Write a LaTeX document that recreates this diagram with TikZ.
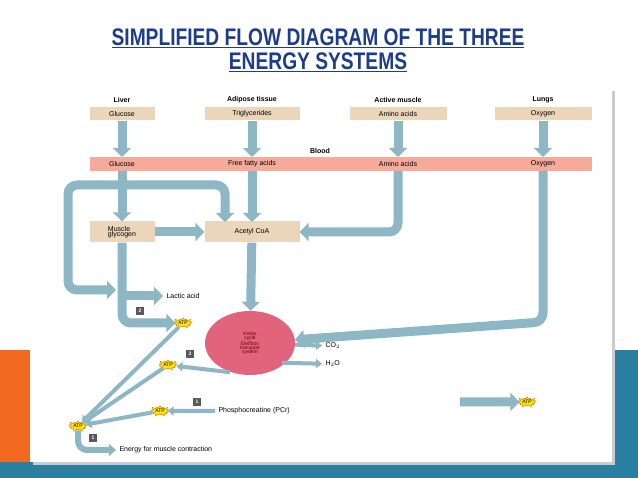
\documentclass[tikz,border=0pt]{standalone}
\usepackage{fontspec}
\setmainfont{Liberation Sans}
\newfontfamily\titlefont{Liberation Sans}[FakeStretch=0.8]
\usetikzlibrary{arrows.meta, positioning, shapes.symbols, shapes.geometric}
\definecolor{flow}{HTML}{8DB7C5}
\definecolor{tan}{HTML}{EBD6BC}
\definecolor{blood}{HTML}{F6AA9A}
\definecolor{krebs}{HTML}{E2647C}
\definecolor{titleblue}{HTML}{1D3C8E}
\definecolor{slideorange}{HTML}{F26A21}
\definecolor{slideteal}{HTML}{2A7FA0}
\tikzset{
  box/.style={fill=tan, minimum height=13pt, inner sep=1pt, font=\scriptsize},
  head/.style={font=\scriptsize\bfseries},
  flowarrow/.style={draw=flow, line width=9pt, rounded corners=9pt, -{Triangle[width=18pt,length=9pt]}},
  thinarrow/.style={draw=flow, line width=4pt, -{Triangle[width=9pt,length=6pt]}},
  atp/.style={starburst, starburst points=14, starburst point height=3pt, fill=yellow!85!orange, draw=orange!80!black, line width=0.3pt, inner sep=0.5pt, font=\tiny},
  stepno/.style={fill=gray!70!black, text=white, font=\tiny\bfseries, minimum size=8pt, inner sep=0pt},
  note/.style={font=\scriptsize, anchor=west}
}
\begin{document}
\begin{tikzpicture}[x=1pt,y=-1pt]
    \useasboundingbox (0,0) rectangle (638,478);
    % slide
    \fill[slideorange] (0,350) rectangle (30,478);
    \fill[slideteal] (600,350) rectangle (638,478);
    \fill[slideteal] (0,462) rectangle (638,478);
    \fill[gray!40] (33,91) rectangle (615,465);
    \fill[white] (30,88) rectangle (612,462);
    \node[font=\titlefont\fontsize{24}{26}\selectfont\bfseries, text=titleblue, align=center] (title) at (318,50)
      {\underline{SIMPLIFIED FLOW DIAGRAM OF THE THREE}\\[-2pt]\underline{ENERGY SYSTEMS}};

    % sources
    \node[head] (H1) at (122,100) {Liver};
    \node[head] (H2) at (252,100) {Adipose tissue};
    \node[head] (H3) at (398,100) {Active muscle};
    \node[head] (H4) at (543,100) {Lungs};
    \node[box, minimum width=65pt] (S1) at (122,114) {Glucose};
    \node[box, minimum width=95pt] (S2) at (252,114) {Triglycerides};
    \node[box, minimum width=97pt] (S3) at (398,114) {Amino acids};
    \node[box, minimum width=97pt] (S4) at (543,114) {Oxygen};

    % blood
    \fill[blood] (90,157) rectangle (592,171);
    \node[head] (blood) at (320,151) {Blood};
    \node[font=\scriptsize] (B1) at (122,164) {Glucose};
    \node[font=\scriptsize] (B2) at (252,164) {Free fatty acids};
    \node[font=\scriptsize] (B3) at (398,164) {Amino acids};
    \node[font=\scriptsize] (B4) at (543,164) {Oxygen};
    \coordinate (in1) at (122,157);
    \coordinate (in2) at (252,157);
    \coordinate (in3) at (398,157);
    \coordinate (in4) at (543,157);

    \node[box, minimum width=65pt, minimum height=21pt, align=left] (glycogen) at (122,232) {Muscle\\[-3pt]glycogen};
    \node[box, minimum width=95pt, minimum height=21pt] (acetyl) at (252,232) {Acetyl CoA};
    \node[ellipse, fill=krebs, minimum width=90pt, minimum height=64pt, inner sep=0pt, align=center, font=\tiny, text=red!40!black] (krebs) at (250,343)
      {Krebs\\[-2pt]cycle\\[-3pt]$\downarrow$\\[-3pt]Electron\\[-2pt]transport\\[-2pt]system};

    \node[atp] (A2) at (183,323) {ATP};
    \node[atp] (A3) at (168,365) {ATP};
    \node[atp] (A1) at (160,411) {ATP};
    \node[atp] (A0) at (78,426) {ATP};
    \node[atp] (Akey) at (527,402) {ATP};
    \node[stepno] (n2) at (140,311) {2};
    \node[stepno] (n3) at (190,354) {3};
    \node[stepno] (n1) at (197,402) {1};
    \node[stepno] (n0) at (93,438) {1};

    \node[note] (lactic) at (163,296) {Lactic acid};
    \node[note] (co2) at (322,346) {CO$_2$};
    \node[note] (h2o) at (322,364) {H$_2$O};
    \node[note] (pcr) at (215,411) {Phosphocreatine (PCr)};
    \node[note] (energy) at (116,450) {Energy for muscle contraction};
    \coordinate (keyL) at (460,402);

    % flows
    \draw[flowarrow] (S1) -- (in1);
    \draw[flowarrow] (S2) -- (in2);
    \draw[flowarrow] (S3) -- (in3);
    \draw[flowarrow] (S4) -- (in4);
    \draw[flowarrow] (122,171) -- (glycogen);
    \draw[flowarrow] (122,185) -- (68,185) -- (68,290) -- (116,290);
    \draw[flowarrow] (122,185) -- (225,185) -- (225,222);
    \draw[flowarrow] (252,171) -- (252,222);
    \draw[flowarrow] (398,171) -- (398,232) -- (acetyl);
    \draw[flowarrow] (glycogen) -- (acetyl);
    \draw[flowarrow] (glycogen) -- (122,323) -- (A2);
    \draw[flowarrow, rounded corners=0pt] (122,296) -- (lactic);
    \draw[flowarrow] (acetyl) -- (krebs);
    \draw[flowarrow] (543,171) -- (543,322) -- (krebs);
    \draw[thinarrow] (krebs) -- (co2);
    \draw[thinarrow] (krebs.south east) ++(0,-3) coordinate (kse) -- (h2o);
    \draw[thinarrow] (krebs.south) ++(-20,-3) coordinate (ksw) -- (A3);
    \draw[thinarrow] (pcr) -- (A1);
    \draw[thinarrow] (A2) -- (A0);
    \draw[thinarrow] (A3) -- (A0);
    \draw[thinarrow] (A1) -- (A0);
    \draw[flowarrow, line width=6pt, -{Triangle[width=12pt,length=7pt]}] (A0) |- (energy);
    \draw[flowarrow] (keyL) -- (Akey);
\end{tikzpicture}
\end{document}
